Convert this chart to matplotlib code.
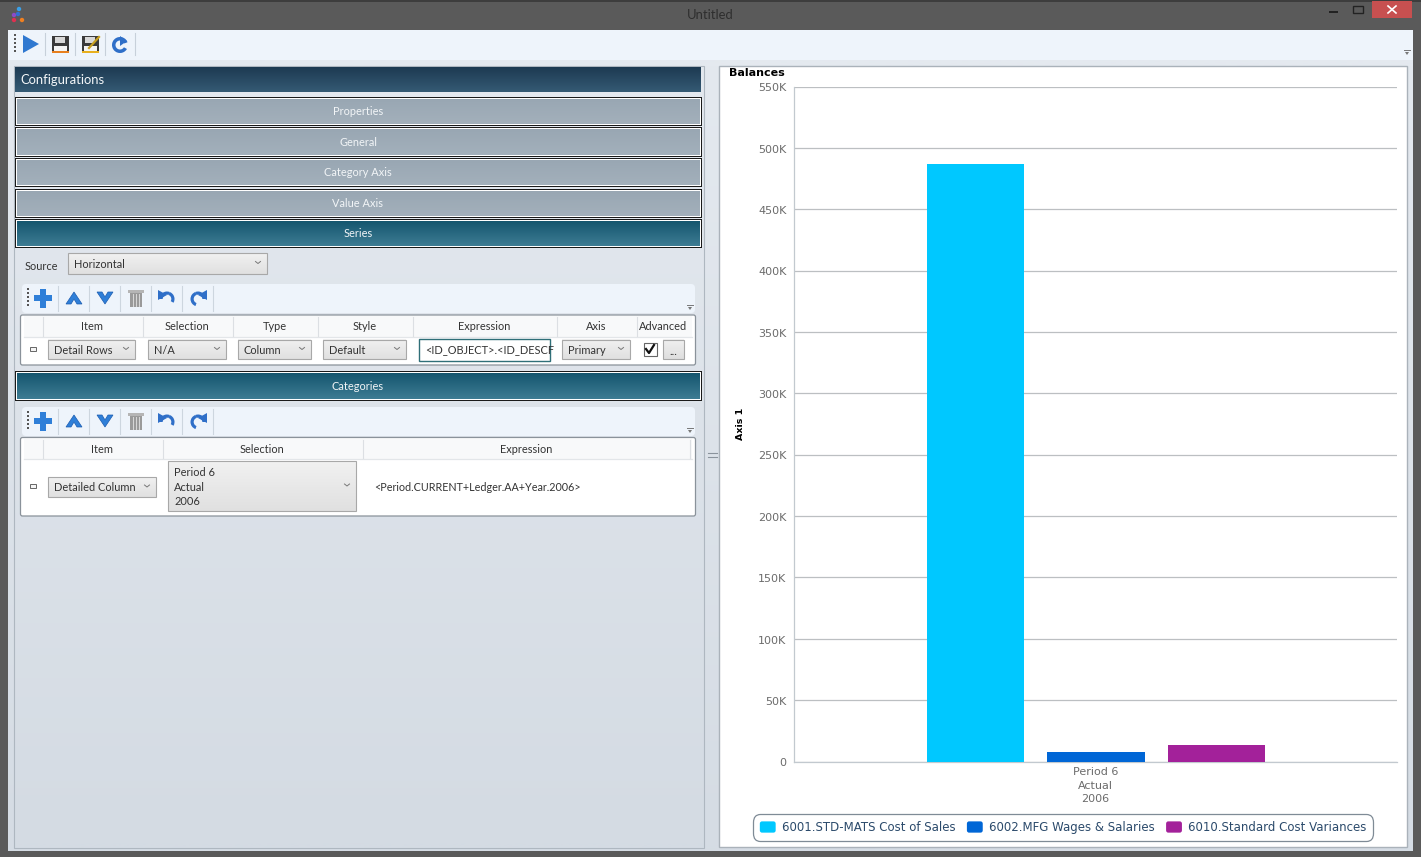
import numpy as np
import matplotlib
matplotlib.use("Agg")
import matplotlib.pyplot as plt
from matplotlib.patches import Rectangle, FancyBboxPatch, Polygon, Circle, Wedge
from matplotlib.legend_handler import HandlerPatch
from matplotlib.ticker import FuncFormatter, MultipleLocator
from matplotlib.transforms import ScaledTranslation

# ---- chart data ----
categories = ["Period 6\nActual\n2006"]
series_names = ["6001.STD-MATS Cost of Sales", "6002.MFG Wages & Salaries", "6010.Standard Cost Variances"]
series_values = [487000, 7700, 13400]
series_colors = ["#00C8FF", "#0066D6", "#A3219A"]
chart_title = "Balances"
axis_title = "Axis 1"

# ---- interface text ----
collapsed_sections = ["Properties", "General", "Category Axis", "Value Axis"]
series_columns = ["Item", "Selection", "Type", "Style", "Expression", "Axis", "Advanced"]
category_columns = ["Item", "Selection", "Expression"]

W, H = 1421, 857
UI = ["Lato", "DejaVu Sans"]
fig = plt.figure(figsize=(W / 100, H / 100), dpi=100, facecolor="#5a5a5a")
ui = fig.add_axes([0, 0, 1, 1])
ui.set_xlim(0, W); ui.set_ylim(H, 0); ui.axis("off"); ui.set_autoscale_on(False)


def px(s):
    return s * 0.72


def rect(x0, y0, x1, y1, fc, ec="none", lw=0.8, z=2):
    ui.add_patch(Rectangle((x0, y0), x1 - x0, y1 - y0, fc=fc, ec=ec, lw=lw, zorder=z))


def rrect(x0, y0, x1, y1, fc, ec="none", lw=0.8, r=3, z=2):
    ui.add_patch(FancyBboxPatch((x0 + r, y0 + r), x1 - x0 - 2 * r, y1 - y0 - 2 * r,
                                boxstyle=f"round,pad={r},rounding_size={r}", fc=fc, ec=ec, lw=lw, zorder=z))


def grad(x0, y0, x1, y1, c0, c1, z=2, horiz=False):
    a = np.array(matplotlib.colors.to_rgb(c0)); b = np.array(matplotlib.colors.to_rgb(c1))
    t = np.linspace(0, 1, 64)[:, None]
    img = (a + (b - a) * t)[:, None, :]
    if horiz:
        img = np.transpose(img, (1, 0, 2))
    ui.imshow(img, extent=(x0, x1, y1, y0), aspect="auto", zorder=z, interpolation="bilinear")


def text(x, y, s, size=11, color="#333333", ha="left", va="center", **kw):
    ui.text(x, y, s, fontsize=px(size), color=color, ha=ha, va=va, family=UI, zorder=6, **kw)


def section(y0, y1, label, c0, c1):
    rect(14.5, y0 - 1.5, 701.5, y1 + 1.5, "#1a1a1a", z=2)
    rect(15.5, y0 - 0.5, 700.5, y1 + 0.5, "#ffffff", z=2)
    grad(16.5, y0 + 0.5, 699.5, y1 - 0.5, c0, c1, z=3)
    text(358, (y0 + y1) / 2 + 0.5, label, 11, "#f2f5f7", ha="center")


def combo(x0, y0, x1, y1, label):
    grad(x0, y0, x1, y1, "#f1f1f1", "#e0e0e0", z=4)
    rect(x0, y0, x1, y1, "none", "#a8a8a8", 0.8, z=5)
    if label.count("\n") == 0:
        text(x0 + 6, (y0 + y1) / 2 + 0.5, label, 11, "#333333")
    cx, cy = x1 - 9, (y0 + y1) / 2 - 1
    ui.plot([cx - 2.5, cx, cx + 2.5], [cy - 1, cy + 1, cy - 1], color="#777777", lw=0.7, zorder=6)


def grip(x, y0, y1):
    for y in np.arange(y0, y1, 4):
        rect(x, y, x + 2, y + 2, "#555555", z=6)


def arrow_up(x, y, flip=1):
    ui.add_patch(Polygon([(x - 8, y + 6 * flip), (x, y - 6 * flip), (x + 8, y + 6 * flip), (x + 3, y + 6 * flip),
                          (x, y + 1 * flip), (x - 3, y + 6 * flip)], fc="#2f7fd8", ec="#1c5cb0", lw=0.5, zorder=6))


def undo(x, y, mirror=1):
    ui.add_patch(Wedge((x, y + 1), 7.5, 180 if mirror == 1 else 250, 290 if mirror == 1 else 360, width=3.2,
                       fc="#2f6fc8", ec="none", zorder=6))
    ui.add_patch(Wedge((x, y + 1), 7.5, -70 if mirror == 1 else 110, 30 if mirror == 1 else 250, width=3.2,
                       fc="#2f6fc8", ec="none", zorder=6))
    ui.add_patch(Polygon([(x - 9 * mirror, y - 8), (x - 9 * mirror, y + 2), (x + 0 * mirror, y - 3)],
                         fc="#2f6fc8", ec="none", zorder=6))


def edit_toolbar(y0, y1, cy):
    rrect(22, y0, 695, y1, "#eef4fb", r=4, z=2)
    grip(27, cy - 10, cy + 10)
    rect(34, cy - 3, 52, cy + 3, "#2f7fd8", z=6); rect(40, cy - 9, 46, cy + 10, "#2f7fd8", z=6)
    arrow_up(74, cy); arrow_up(105, cy, -1)
    rect(130, cy - 6, 142, cy + 9, "#9a9a9a", z=6); rect(128, cy - 8, 144, cy - 5, "#b5b5b5", z=6)
    for x in (133, 136, 139):
        ui.plot([x, x], [cy - 4, cy + 8], color="#d8d8d8", lw=0.7, zorder=7)
    undo(167, cy); undo(198, cy, -1)
    for x in (58, 89, 120, 151, 182, 213):
        ui.plot([x, x], [cy - 12, cy + 13], color="#cdd6df", lw=0.8, zorder=6)
    ui.plot([687, 693], [y1 - 8, y1 - 8], color="#777777", lw=0.7, zorder=6)
    ui.add_patch(Polygon([(688, y1 - 6), (692, y1 - 6), (690, y1 - 3)], fc="#777777", zorder=6))


def minus(x, y):
    rect(x - 3, y - 2, x + 3, y + 2, "#f5f5f5", "#666666", 0.7, z=6)


# ---- window ----
rect(0, 0, W, H, "#5a5a5a", z=0)
rect(0, 0, W, 1.5, "#3d3d3d", z=1)
text(710.5, 15, "Untitled", 13, "#2e2e2e", ha="center")
for c, (x, y) in zip(["#3aa0e8", "#8a4bc8", "#e03050", "#f08020", "#3070d0"],
                     [(19, 9), (14, 15), (14, 20), (22, 20), (18, 14)]):
    ui.add_patch(Circle((x, y), 2.2, fc=c, zorder=3))
rect(1372, 1, 1412, 18, "#C75050", z=3)
ui.plot([1388, 1396], [6, 13], color="white", lw=1.2, zorder=4)
ui.plot([1388, 1396], [13, 6], color="white", lw=1.2, zorder=4)
rect(1329, 11, 1338, 13, "#222222", z=3)
rect(1353, 6, 1363, 13, "none", "#222222", 1, z=3)

# ---- toolbar ----
rect(8, 30, 1413, 60, "#eef4fb", z=1)
grip(14, 34, 54)
ui.add_patch(Polygon([(23, 35), (39, 44), (23, 53)], fc="#2f78d0", zorder=4))
for x, c in ((60, "#e8801e"), (90, "#e8b01e")):
    rect(x - 8, 36, x + 9, 53, "#3a3a3a", z=3)
    rect(x - 5, 37, x + 5, 43, "#d8d8d8", z=4)
    rect(x - 6, 46, x + 7, 52, "#f4f4f4", z=4)
    rect(x - 8, 51, x + 9, 53, c, z=5)
ui.plot([89, 99], [48, 37], color="#c8a020", lw=1.6, zorder=6)
ui.add_patch(Wedge((120, 45), 8, 30, 340, width=3.5, fc="#2f6fc8", zorder=4))
ui.add_patch(Polygon([(120, 36), (127, 41), (120, 46)], fc="#2f6fc8", zorder=5))
for x in (45, 75, 105, 135):
    ui.plot([x, x], [33, 55], color="#c7d0da", lw=0.8, zorder=4)
ui.plot([1404, 1410], [50, 50], color="#777777", lw=0.7, zorder=4)
ui.add_patch(Polygon([(1405, 52), (1409, 52), (1407, 55)], fc="#777777", zorder=4))

# ---- main area ----
grad(8, 60, 1413, 851, "#e4e9ef", "#d5dce4", z=1)
grad(14, 400, 704, 847, "#dde3ea", "#d4dbe3", z=1)
rect(14, 66, 704, 848, "none", "#aeb7c0", 0.8, z=2)
for y in (453, 457):
    ui.plot([708, 717], [y, y], color="#8a939c", lw=0.8, zorder=3)

grad(15, 67, 701, 92, "#1d3a52", "#355a74", z=3)
text(20, 79.5, "Configurations", 13, "#f4f7f9")
spans = [(98, 124), (128, 155), (159, 185), (190, 216)]
for (y0, y1), lab in zip(spans, collapsed_sections):
    section(y0, y1, lab, "#99a7b3", "#a3b0bb")
section(220, 246, "Series", "#15566f", "#3e7c93")
section(372.5, 399, "Categories", "#15566f", "#3e7c93")

text(25, 266, "Source")
combo(68, 253, 267, 274, "Horizontal")

edit_toolbar(284, 313, 298)
rrect(20.5, 315, 695.5, 365, "#ffffff", "#8a929a", 0.9, r=2, z=3)
edges = [43, 143, 233, 318, 413, 557, 637]
ui.plot([24, 692], [337, 337], color="#e3e6e9", lw=0.9, zorder=4)
rect(24, 316, 692, 336.5, "#f8f9fa", z=3.5)
for x in edges:
    ui.plot([x, x], [317, 336], color="#dcdfe3", lw=0.8, zorder=4)
for lab, x in zip(series_columns, [92, 187, 275, 365, 484, 596, 663]):
    text(x, 326, lab, ha="center")
minus(33, 349)
combo(48, 340, 135, 359, "Detail Rows")
combo(148, 340, 226, 359, "N/A")
combo(238, 340, 311, 359, "Column")
combo(323, 340, 406, 359, "Default")
rect(418.5, 338.5, 550, 361, "#ffffff", "#2f6f78", 1, z=5)
text(425, 350, "<ID_OBJECT>.<ID_DESCF")
combo(562, 340, 630, 359, "Primary")
rect(643.5, 342.5, 656.5, 355.5, "#ffffff", "#666666", 0.8, z=5)
ui.plot([646, 649, 654], [349, 353, 345], color="#111111", lw=1.6, zorder=6)
grad(663, 340, 684, 359, "#f1f1f1", "#dedede", z=5)
rect(663, 340, 684, 359, "none", "#a8a8a8", 0.8, z=6)
text(673.5, 351, "...", 11, ha="center")

edit_toolbar(407, 436, 421)
rrect(20.5, 437.5, 695.5, 516, "#ffffff", "#8a929a", 0.9, r=2, z=3)
rect(24, 438.5, 692, 458.5, "#f8f9fa", z=3.5)
ui.plot([24, 692], [459, 459], color="#e3e6e9", lw=0.9, zorder=4)
for x in (43, 163, 363, 690):
    ui.plot([x, x], [440, 458], color="#dcdfe3", lw=0.8, zorder=4)
for lab, x in zip(category_columns, [102, 262, 526]):
    text(x, 449, lab, ha="center")
minus(33, 486)
combo(48, 477, 156, 497, "Detailed Column")
combo(168, 461, 356, 511, "Period 6\nActual\n2006")
for y, s in zip((472, 487, 501), categories[0].split("\n")):
    text(174, y, s)
text(374, 487.5, "<Period.CURRENT+Ledger.AA+Year.2006>", 10.8)

# ---- chart panel ----
rect(718.5, 66, 1407, 847, "#ffffff", "#aab2ba", 1, z=2)
x0, x1, y_top, y_bot = 794, 1397, 86.5, 761.5
ax = fig.add_axes([x0 / W, 1 - y_bot / H, (x1 - x0) / W, (y_bot - y_top) / H], zorder=5)
ax.patch.set_alpha(0)
positions = np.array([-1, 0, 1]) * 0.2 + 0.0008
bars = [ax.bar(p, v, width=0.161, color=c, label=n, zorder=3)
        for p, v, c, n in zip(positions, series_values, series_colors, series_names)]
ax.set_xlim(-0.5, 0.5)
ax.set_ylim(0, 550000)
ax.yaxis.set_major_locator(MultipleLocator(50000))
ax.yaxis.set_major_formatter(FuncFormatter(lambda v, _: "0" if v == 0 else f"{int(v / 1000)}K"))
ax.set_xticks([0], categories)
ax.grid(axis="y", color="#bcbfc2", lw=0.9, zorder=1)
ax.set_axisbelow(True)
for s in ("top", "right"):
    ax.spines[s].set_visible(False)
for s in ("left", "bottom"):
    ax.spines[s].set_color("#c2c9cf"); ax.spines[s].set_linewidth(0.9)
ax.tick_params(axis="y", length=0, pad=5.5, labelsize=8, labelcolor="#6b6b6b")
ax.tick_params(axis="x", length=0, pad=4, labelsize=8, labelcolor="#6b6b6b")
fig.canvas.draw()
down = ScaledTranslation(0, -0.8 / 100, fig.dpi_scale_trans)
for t in ax.get_yticklabels():
    t.set_transform(t.get_transform() + down)
for t in ax.get_xticklabels():
    t.set_linespacing(1.45)
fig.text(729 / W, 1 - 73 / H, chart_title, fontsize=8, fontweight="bold", color="#000000", ha="left", va="center")
fig.text(740 / W, 1 - 424 / H, axis_title, fontsize=6.8, fontweight="bold", color="#000000",
         rotation=90, ha="center", va="center")


def swatch(legend, orig_handle, xdescent, ydescent, width, height, fontsize):
    r = 1.6
    return FancyBboxPatch((-xdescent + r, -ydescent + r), width - 2 * r, height - 2 * r,
                          boxstyle=f"round,pad={r},rounding_size={r}")


leg = fig.legend(handles=[b[0] for b in bars], labels=series_names, loc="center",
                 bbox_to_anchor=(1063 / W, 1 - 827.5 / H), bbox_transform=fig.transFigure,
                 ncol=3, frameon=True, fancybox=True, fontsize=8.45, labelcolor="#2b4a6b",
                 edgecolor="#7f8b96", facecolor="white", framealpha=1,
                 handlelength=1.35, handleheight=1.1, handletextpad=0.5, columnspacing=1.0,
                 borderpad=0.6, borderaxespad=0, handler_map={Rectangle: HandlerPatch(patch_func=swatch)})
leg.get_frame().set_linewidth(0.9)
leg.get_frame().set_boxstyle("round", pad=0, rounding_size=0.65)

ui.set_xlim(0, W); ui.set_ylim(H, 0)
fig.savefig("out.png", dpi=100, facecolor=fig.get_facecolor())
